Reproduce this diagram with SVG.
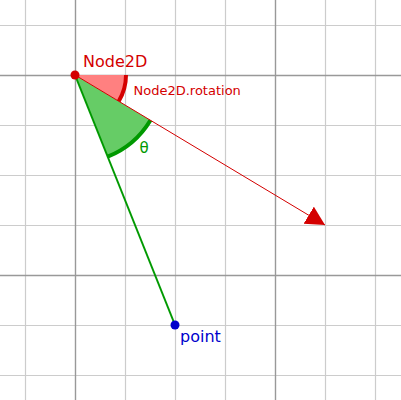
<svg xmlns="http://www.w3.org/2000/svg" width="401" height="400" viewBox="0 0 401 400">
<style>
.g1{stroke:#cccccc;stroke-width:1.2;fill:none}
.g2{stroke:#999999;stroke-width:1.4;fill:none}
.t{font-family:"DejaVu Sans",sans-serif}
</style>
<defs>
<marker id="arr" markerUnits="userSpaceOnUse" markerWidth="20" markerHeight="21" refX="19" refY="10" orient="auto">
<path d="M0,0 L19,10 L0,20 Z" fill="#d40000"/>
</marker>
</defs>
<rect width="401" height="400" fill="#ffffff"/>
<g id="grid">
<path class="g1" d="M25.5,0V400M125.5,0V400M175.5,0V400M225.5,0V400M325.5,0V400M375.5,0V400M0,25.5H401M0,125.5H401M0,175.5H401M0,225.5H401M0,325.5H401M0,375.5H401"/>
<path class="g2" d="M75.5,0V400M275.5,0V400M0,75.5H401M0,275.5H401"/>
</g>
<g id="rotation-angle">
<path d="M75,75 L126,75 A51,51 0 0 1 118.73,101.24 Z" fill="#ff8080"/>
<path d="M126,75 A51,51 0 0 1 118.73,101.24" fill="none" stroke="#d40000" stroke-width="4"/>
</g>
<g id="theta-angle">
<path d="M75,75 L150.46,120.27 A88,88 0 0 1 107.68,156.71 Z" fill="#66cc66"/>
<path d="M150.46,120.27 A88,88 0 0 1 107.68,156.71" fill="none" stroke="#009900" stroke-width="4"/>
</g>
<g id="connectors">
<line x1="75" y1="75" x2="325" y2="225" stroke="#d40000" stroke-width="1" marker-end="url(#arr)"/>
<line x1="75" y1="75" x2="175" y2="325" stroke="#009900" stroke-width="2"/>
</g>
<g id="node2d">
<circle cx="75" cy="75" r="4.5" fill="#d40000"/>
<text class="t" x="83" y="67" font-size="16" fill="#d40000">Node2D</text>
</g>
<g id="rotation-label">
<text class="t" x="133.5" y="95" font-size="13" fill="#d40000">Node2D.rotation</text>
</g>
<g id="theta-label">
<text class="t" x="139.5" y="152.5" font-size="15" fill="#009900">θ</text>
</g>
<g id="point">
<circle cx="175" cy="325" r="4.5" fill="#0000cc"/>
<text class="t" x="180" y="342" font-size="16" fill="#0000cc">point</text>
</g>
</svg>
